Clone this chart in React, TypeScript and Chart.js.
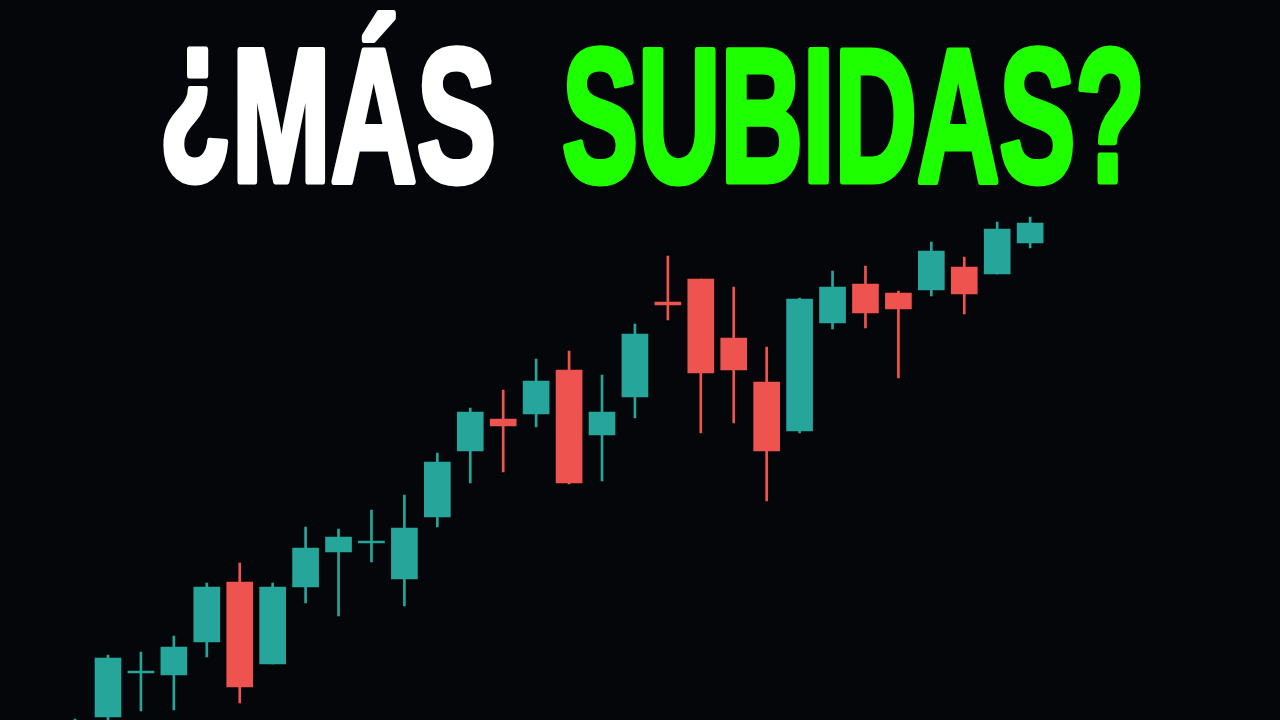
import React, { useEffect, useRef } from "react";
import { Chart, registerables } from "chart.js";

Chart.register(...registerables);

// 30 trading sessions (no axis labels are shown in the picture)
const sessions = [
  "S1", "S2", "S3", "S4", "S5", "S6", "S7", "S8", "S9", "S10",
  "S11", "S12", "S13", "S14", "S15", "S16", "S17", "S18", "S19", "S20",
  "S21", "S22", "S23", "S24", "S25", "S26", "S27", "S28", "S29", "S30",
];

const opens = [
  10, 43, 87, 85, 118, 178, 96, 173, 208, 217,
  181, 243, 309, 341, 346, 390, 325, 363, 458, 481,
  422, 378, 329, 437, 476, 467, 470, 493, 486, 517,
];
const highs = [
  41, 105, 108, 124, 177, 197, 177, 233, 231, 250,
  265, 307, 352, 370, 401, 409, 385, 436, 504, 481,
  473, 413, 462, 489, 494, 469, 518, 503, 538, 543,
];
const lows = [
  5, 38, 49, 50, 103, 57, 96, 157, 144, 198,
  154, 233, 277, 288, 333, 276, 279, 342, 440, 327,
  337, 259, 327, 431, 432, 382, 464, 446, 486, 512,
];
const closes = [
  35, 102, 89, 113, 173, 73, 173, 212, 223, 219,
  232, 298, 348, 334, 379, 277, 348, 426, 455, 387,
  390, 309, 461, 473, 447, 451, 509, 466, 531, 537,
];

const UP = "#26a69a";
const DOWN = "#ef5350";

export default function App() {
  const canvasRef = useRef<HTMLCanvasElement | null>(null);

  useEffect(() => {
    const canvas = canvasRef.current;
    if (!canvas) return;
    const colors = opens.map((o, i) => (closes[i] >= o ? UP : DOWN));
    const chart = new Chart(canvas, {
      type: "bar",
      data: {
        labels: sessions,
        datasets: [
          {
            label: "Cuerpo",
            data: opens.map((o, i) => [o, closes[i]]) as any,
            backgroundColor: colors,
            borderWidth: 0,
            barThickness: 26,
            grouped: false,
          } as any,
          {
            label: "Mecha",
            data: lows.map((l, i) => [l, highs[i]]) as any,
            backgroundColor: colors,
            borderWidth: 0,
            barThickness: 2,
            grouped: false,
          } as any,
        ],
      },
      options: {
        responsive: false,
        maintainAspectRatio: false,
        animation: false,
        devicePixelRatio: 1,
        layout: { padding: { left: 58.6, right: 233.4, top: 0, bottom: 0 } },
        plugins: {
          legend: { display: false },
          tooltip: { enabled: false },
          title: { display: false },
        },
        scales: {
          x: { display: false, offset: true, grid: { display: false } },
          y: { display: false, min: 40, max: 760, grid: { display: false } },
        },
      },
    });
    return () => chart.destroy();
  }, []);

  const fontFamily = '"Liberation Sans", Arial, sans-serif';

  return (
    <div
      style={{
        position: "fixed",
        left: 0,
        top: 0,
        width: 1280,
        height: 720,
        background: "#05060a",
        overflow: "hidden",
      }}
    >
      <canvas
        ref={canvasRef}
        width={1280}
        height={720}
        style={{ position: "absolute", left: 0, top: 0, width: 1280, height: 720 }}
      />
      <svg
        width={1280}
        height={720}
        style={{ position: "absolute", left: 0, top: 0, pointerEvents: "none" }}
      >
        <text
          x={159}
          y={181}
          textLength={337}
          lengthAdjust="spacingAndGlyphs"
          fill="#ffffff"
          stroke="#ffffff"
          strokeWidth={7}
          strokeLinejoin="round"
          fontFamily={fontFamily}
          fontWeight={700}
          fontSize={190}
        >
          <tspan dy={-31}>¿</tspan>
          <tspan dy={31}>MÁS</tspan>
        </text>
        <text
          x={562}
          y={181}
          textLength={583}
          lengthAdjust="spacingAndGlyphs"
          fill="#1eff00"
          stroke="#1eff00"
          strokeWidth={7}
          strokeLinejoin="round"
          fontFamily={fontFamily}
          fontWeight={700}
          fontSize={190}
        >
          SUBIDAS?
        </text>
      </svg>
    </div>
  );
}
